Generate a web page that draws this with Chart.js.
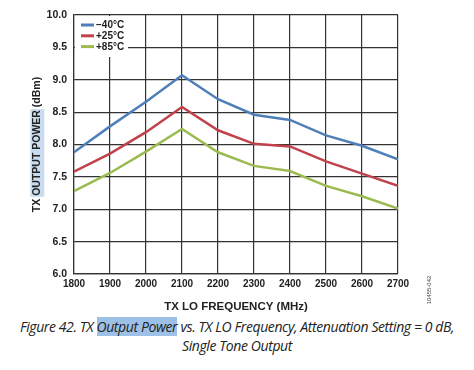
<!DOCTYPE html>
<html>
<head>
<meta charset="utf-8">
<script src="https://cdn.jsdelivr.net/npm/chart.js@4"></script>
<style>
  body { margin: 0; background: #fff; width: 474px; height: 370px; overflow: hidden; }
  #wrap { position: relative; width: 474px; height: 318px; }
  #caption {
    font-family: "Open Sans", sans-serif; font-style: italic; font-size: 14px;
    color: #222; text-align: center; line-height: 19px; margin-top: -1px; letter-spacing: -0.4px;
  }
  #caption .hl { background: #9dc1e6; }
</style>
</head>
<body>
<div id="wrap"><canvas id="chart" width="474" height="318"></canvas></div>
<div id="caption">Figure 42. TX <span class="hl">Output Power</span> vs. TX LO Frequency, Attenuation Setting = 0 dB,<br>Single Tone Output</div>
<script>
const frequencies = [1800, 1900, 2000, 2100, 2200, 2300, 2400, 2500, 2600, 2700];
const seriesLabels = ['\u221240\u00b0C', '+25\u00b0C', '+85\u00b0C'];
const minus40 = [7.88, 8.28, 8.66, 9.07, 8.70, 8.46, 8.38, 8.14, 7.98, 7.77];
const plus25 = [7.58, 7.86, 8.19, 8.58, 8.22, 8.01, 7.97, 7.74, 7.55, 7.36];
const plus85 = [7.28, 7.56, 7.89, 8.24, 7.88, 7.67, 7.59, 7.36, 7.20, 7.01];
const colors = ['#4f7fb8', '#c0424b', '#9bbb51'];

const font = 'Liberation Sans, Arial, sans-serif';
const yTitleSize = 10.5;

const legendBox = {
    id: 'legendBox',
    beforeDraw(chart) {
        // search highlight behind "OUTPUT POWER" in the y title
        const ctx = chart.ctx;
        const a = chart.chartArea;
        ctx.save();
        ctx.font = 'bold ' + yTitleSize + 'px ' + font;
        const full = ctx.measureText('TX OUTPUT POWER (dBm)').width;
        const w1 = ctx.measureText('TX ').width;
        const w2 = ctx.measureText('OUTPUT POWER').width;
        const cy = (a.top + a.bottom) / 2;
        const cx = 31 + yTitleSize * 1.2 / 2;
        const bottom = cy + full / 2 - w1 + 1;
        ctx.fillStyle = '#c9dcf0';
        ctx.fillRect(cx - 7, bottom - w2 - 2, 14, w2 + 2);
        ctx.restore();
    },
    afterDatasetsDraw(chart) {
        const ctx = chart.ctx;
        const a = chart.chartArea;
        ctx.save();
        ctx.fillStyle = '#fff';
        ctx.fillRect(a.left + 1, a.top + 1, 53, 41);
        ctx.font = 'bold 10px ' + font;
        ctx.textBaseline = 'middle';
        chart.data.datasets.forEach((ds, i) => {
            const y = a.top + 10 + i * 10.8;
            ctx.strokeStyle = ds.borderColor;
            ctx.lineWidth = 3;
            ctx.beginPath();
            ctx.moveTo(a.left + 7, y);
            ctx.lineTo(a.left + 20, y);
            ctx.stroke();
            ctx.fillStyle = '#222';
            ctx.fillText(ds.label, a.left + 22, y + 0.5);
        });
        ctx.restore();
    },
    afterDraw(chart) {
        const ctx = chart.ctx;
        ctx.save();
        ctx.translate(429, 290);
        ctx.rotate(-Math.PI / 2);
        ctx.font = '6px ' + font;
        ctx.fillStyle = '#444';
        ctx.textAlign = 'center';
        ctx.textBaseline = 'middle';
        ctx.fillText('10455-042', 0, 0);
        ctx.restore();
    }
};

new Chart(document.getElementById('chart'), {
    type: 'line',
    data: {
        labels: frequencies,
        datasets: [minus40, plus25, plus85].map((d, i) => ({
            label: seriesLabels[i],
            data: d,
            borderColor: colors[i],
            borderWidth: 2.5,
            pointRadius: 0,
            tension: 0,
            fill: false
        }))
    },
    options: {
        responsive: false,
        animation: false,
        layout: { padding: { top: 15, right: 76, left: 0, bottom: 0 } },
        plugins: { legend: { display: false }, tooltip: { enabled: false } },
        scales: {
            x: {
                type: 'linear',
                min: 1800, max: 2700,
                afterFit(s) { s.height = 44; },
                afterBuildTicks(s) { s.ticks = frequencies.map(v => ({ value: v })); },
                grid: { color: '#333', lineWidth: 1.2, drawTicks: false },
                border: { color: '#333', width: 1.2 },
                ticks: {
                    color: '#222', padding: 4, maxRotation: 0, autoSkip: false,
                    font: { family: font, size: 10, weight: 'bold' },
                    callback: v => String(v)
                },
                title: {
                    display: true, text: 'TX LO FREQUENCY (MHz)', color: '#222', padding: { top: 0 },
                    font: { family: font, size: 11.5, weight: 'bold' }
                }
            },
            y: {
                min: 6, max: 10,
                afterFit(s) { s.width = 74; },
                grid: { color: '#333', lineWidth: 1.2, drawTicks: false },
                border: { color: '#333', width: 1.2 },
                ticks: {
                    stepSize: 0.5, color: '#222', padding: 7,
                    font: { family: font, size: 10.5, weight: 'bold' },
                    callback: v => v.toFixed(1)
                },
                title: {
                    display: true, text: 'TX OUTPUT POWER (dBm)', color: '#222', padding: { top: 31, bottom: 0 },
                    font: { family: font, size: yTitleSize, weight: 'bold' }
                }
            }
        }
    },
    plugins: [legendBox]
});
</script>
</body>
</html>
